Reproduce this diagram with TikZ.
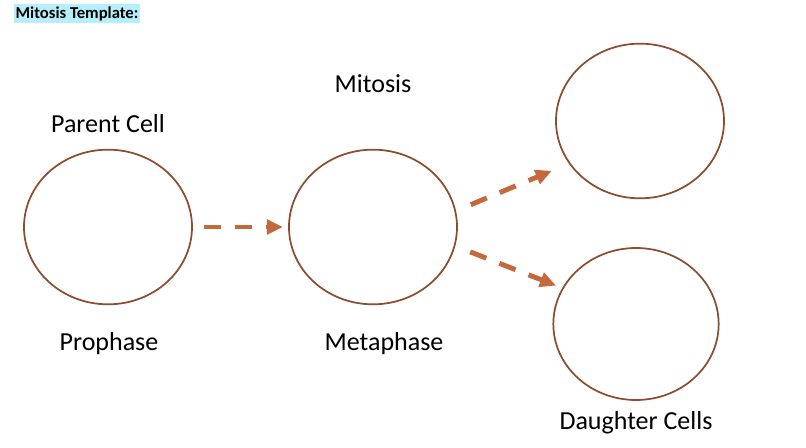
\documentclass[tikz,border=0pt]{standalone}
\usepackage{fontspec}
\setmainfont{Carlito}
\usepackage{xcolor}
\usepackage{tikz}
\usetikzlibrary{arrows.meta, shapes.geometric}
\definecolor{cellline}{RGB}{140,76,46}
\definecolor{arrowcol}{RGB}{196,104,62}
\definecolor{hilite}{RGB}{182,238,250}
\tikzset{
  cell/.style={ellipse, draw=cellline, line width=1.3pt, inner sep=0pt,
               minimum width=126pt, minimum height=116pt},
  lbl/.style={font=\fontsize{19.5}{23}\selectfont, anchor=base, inner sep=0pt},
  arr/.style={-{Triangle[length=12pt, width=11pt]}, arrowcol,
              line width=3.7pt, dash pattern=on 13pt off 10.5pt},
}

\begin{document}
\begin{tikzpicture}[x=0.75pt, y=-0.75pt]
  \useasboundingbox (0,0) rectangle (806,448);
  %% Title
  \node[fill=hilite, anchor=base west, inner xsep=1pt, inner ysep=0pt,
        text height=11.5pt, text depth=3pt,
        font=\fontsize{12.5}{14}\selectfont\bfseries] (title) at (14,19) {Mitosis Template:};
  %% Cells
  \node[cell] (parent) at (108,227) {};
  \node[cell] (meta)   at (373,227) {};
  \node[cell] (dtop)   at (640,121) {};
  \node[cell, minimum width=124pt, minimum height=114pt] (dbot) at (636,324) {};
  %% Labels
  \node[lbl] (lparent) at (108,133) {Parent Cell};
  \node[lbl] (lmitos)  at (373,93)  {Mitosis};
  \node[lbl] (lpro)    at (109,351) {Prophase};
  \node[lbl] (lmeta)   at (384,351) {Metaphase};
  \node[lbl] (ldaught) at (636,430) {Daughter Cells};
  %% Arrows
  \draw[arr, shorten <=8pt, shorten >=4pt] (parent.east) -- (meta.west);
  \draw[arr, shorten <=12pt, shorten >=14pt] (meta.11) -- (dtop.211);
  \draw[arr, shorten <=12pt, shorten >=5pt] (meta.-13) -- (dbot.154);
\end{tikzpicture}
\end{document}
